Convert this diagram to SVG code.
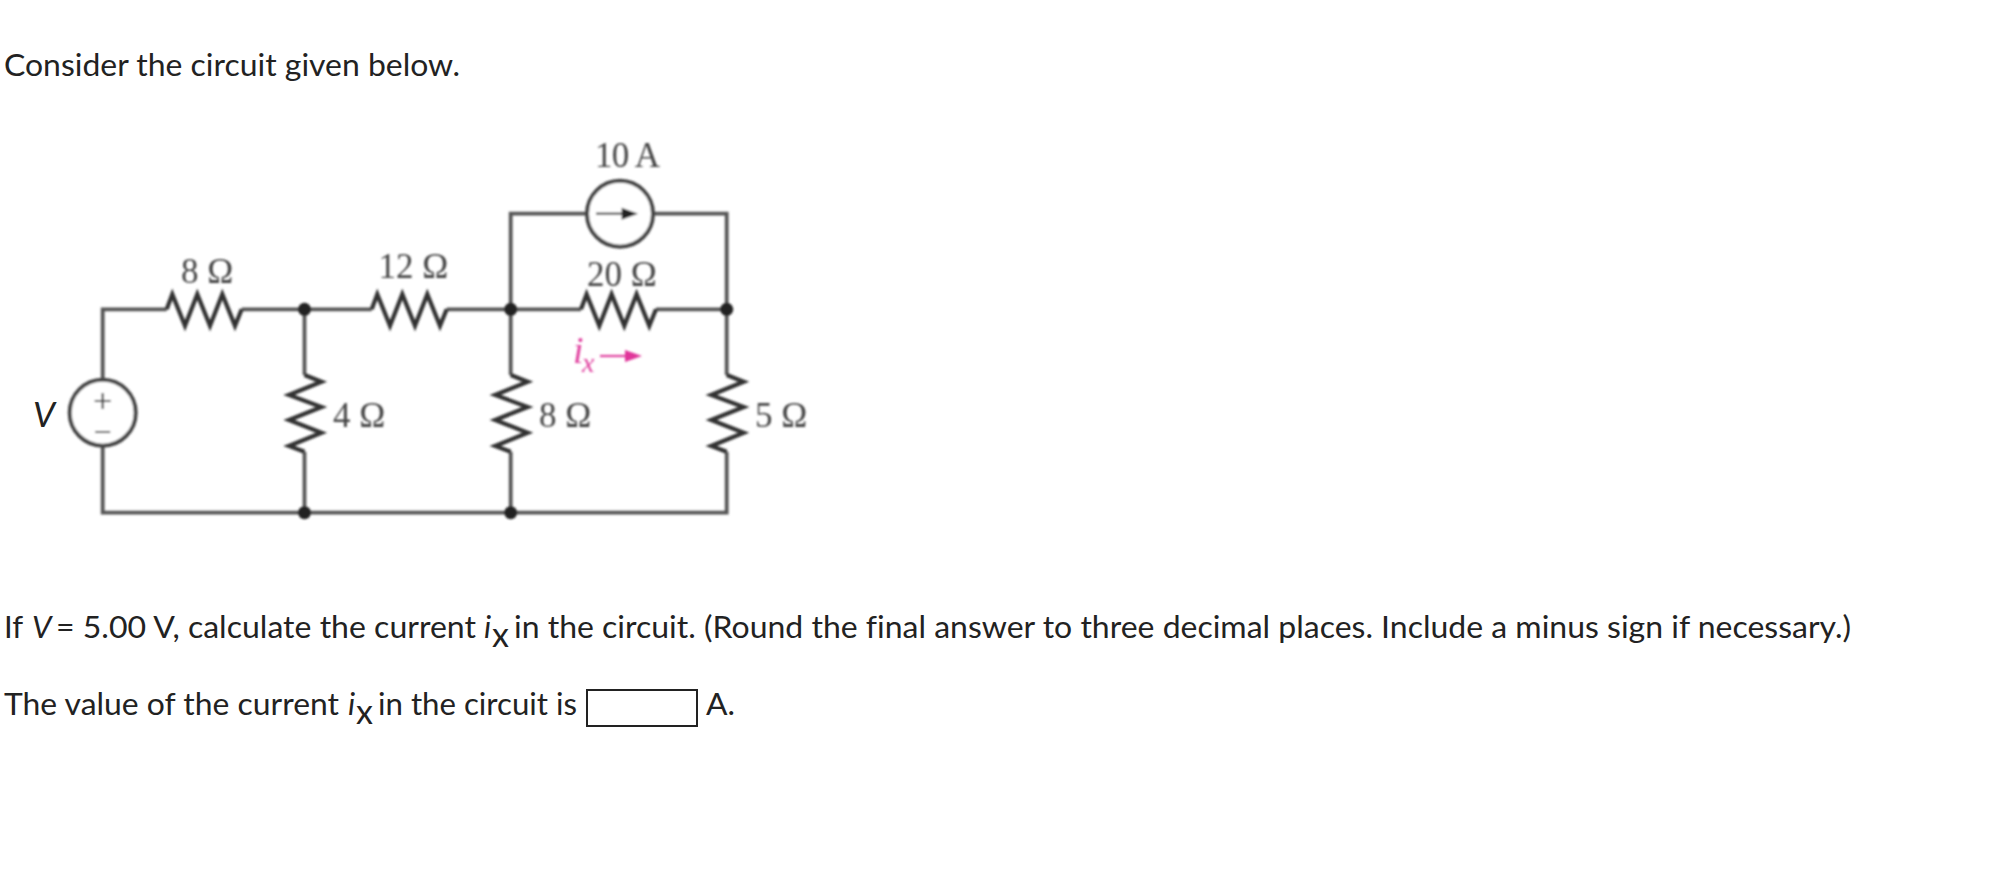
<svg xmlns="http://www.w3.org/2000/svg" width="2008" height="882" viewBox="0 0 2008 882">
<style>
.body{font-family:"Lato","Liberation Sans",sans-serif;font-size:31px;fill:#222;font-variant-ligatures:none}
.it{font-style:italic}
.sub{font-size:34px}
.lab{font-family:"Liberation Serif","DejaVu Serif",serif;font-size:35px;fill:#444}
.w{fill:none;stroke:#555;stroke-width:3.8}
.r{fill:none;stroke:#333;stroke-width:4.2;stroke-linejoin:miter}
.c{fill:#fff;stroke:#444;stroke-width:4}
.d{fill:#222}
.thin{stroke:#444;stroke-width:2.2;fill:none}
.pk{font-family:"Liberation Serif",serif;font-style:italic;fill:#e0409f}
</style>
<defs>
<filter id="soft" filterUnits="userSpaceOnUse" x="0" y="120" width="860" height="420"><feGaussianBlur stdDeviation="1"/></filter>
<path id="hr" d="M0 0L5.600 -15L18.300 16.500L30.600 -15L43.300 16.500L55.600 -15L68.300 16.500L75 0"/>
<path id="vr" d="M0 0L17 6.700L-15.500 20L17 32L-15.500 45L17 57.700L-15.500 71L0 76.700"/>
</defs>
<rect width="2008" height="882" fill="#fff"/>
<text class="body" x="4" y="76" textLength="456" lengthAdjust="spacingAndGlyphs">Consider the circuit given below.</text>
<g filter="url(#soft)">
<g id="connectors">
<path class="w" d="M102.700 380V309.300H166.700M241.700 309.300H371.700M446.700 309.300H581M656 309.300H726.700V375M726.700 451.700V512.700H102.700V446"/>
<path class="w" d="M304.500 309.300V375M304.500 451.700V512.700M510.700 309.300V375M510.700 451.700V512.700"/>
<path class="w" d="M510.700 309.300V213.700H587M653 213.700H726.700V309.300"/>
</g>
<g id="source-v">
<circle class="c" cx="102.700" cy="412.700" r="33"/>
<path class="thin" d="M94.700 401H110.700M102.700 393V409M95.200 432H110.200"/>
</g>
<g id="source-10a">
<circle class="c" cx="620" cy="213.700" r="33"/>
<path class="thin" d="M596 213.700H626"/>
<path d="M621.700 207.700L638 213.700L621.700 219.700Z" fill="#222"/>
<text class="lab" x="595" y="167" textLength="65">10 A</text>
</g>
<g id="r-8-top"><use href="#hr" x="166.700" y="309.300" class="r"/><text class="lab" x="181" y="283">8 Ω</text></g>
<g id="r-12"><use href="#hr" x="371.700" y="309.300" class="r"/><text class="lab" x="378.500" y="278">12 Ω</text></g>
<g id="r-20"><use href="#hr" x="581" y="309.300" class="r"/><text class="lab" x="587" y="285.500">20 Ω</text></g>
<g id="r-4"><use href="#vr" x="304.500" y="375" class="r"/><text class="lab" x="333" y="427">4 Ω</text></g>
<g id="r-8-mid"><use href="#vr" x="510.700" y="375" class="r"/><text class="lab" x="539" y="427">8 Ω</text></g>
<g id="r-5"><use href="#vr" x="726.700" y="375" class="r"/><text class="lab" x="755" y="427">5 Ω</text></g>
<g id="junctions">
<circle class="d" cx="304.500" cy="309.300" r="6.500"/>
<circle class="d" cx="510.700" cy="309.300" r="6.500"/>
<circle class="d" cx="726.700" cy="309.300" r="6.500"/>
<circle class="d" cx="304.500" cy="512.700" r="6.500"/>
<circle class="d" cx="510.700" cy="512.700" r="6.500"/>
</g>
<g id="current-ix">
<text class="pk" x="573" y="363" font-size="38">i</text>
<text class="pk" x="582" y="372" font-size="28">x</text>
<path d="M600 356H630" stroke="#e0409f" stroke-width="2.200" fill="none"/>
<path d="M625 350L642 356L625 362Z" fill="#e0359a"/>
</g>
</g>
<text id="v-label" class="body it" x="33" y="427" style="font-size:35px">V</text>
<g id="question">
<text class="body" x="4" y="638">If</text>
<text class="body it" x="32" y="638">V</text>
<text class="body" x="56" y="638" textLength="420" lengthAdjust="spacingAndGlyphs">= 5.00 V, calculate the current</text>
<text class="body it" x="484" y="638">i</text>
<text class="body sub" x="492" y="647">x</text>
<text class="body" x="514" y="638" textLength="1337" lengthAdjust="spacingAndGlyphs">in the circuit. (Round the final answer to three decimal places. Include a minus sign if necessary.)</text>
<text class="body" x="4" y="715" textLength="335" lengthAdjust="spacingAndGlyphs">The value of the current</text>
<text class="body it" x="348" y="715">i</text>
<text class="body sub" x="356" y="724">x</text>
<text class="body" x="378" y="715" textLength="199" lengthAdjust="spacingAndGlyphs">in the circuit is</text>
<rect x="587" y="690" width="110" height="36" fill="#fff" stroke="#222" stroke-width="2"/>
<text class="body" x="706" y="715" textLength="29" lengthAdjust="spacingAndGlyphs">A.</text>
</g>
</svg>
